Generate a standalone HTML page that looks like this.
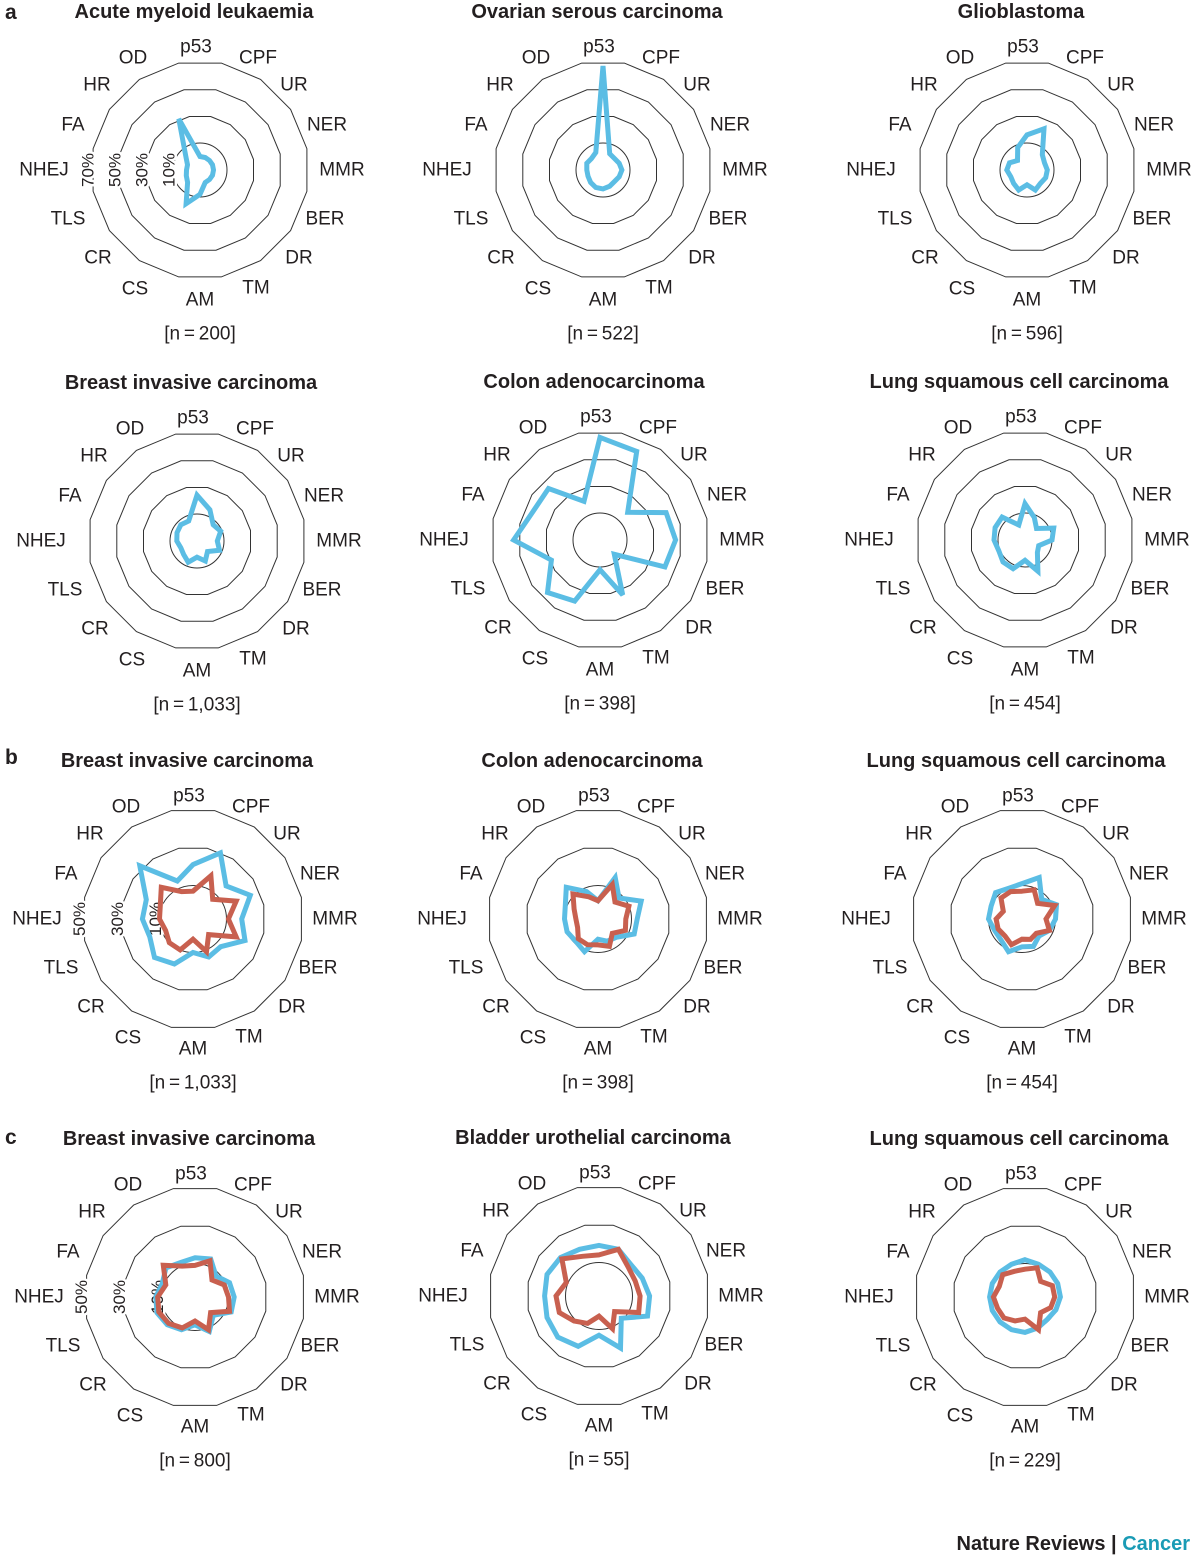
<!DOCTYPE html>
<html><head><meta charset="utf-8">
<style>
html,body{margin:0;padding:0;background:#fff;}
svg{display:block;font-family:"Liberation Sans",sans-serif;}
.ttl{font-weight:bold;font-size:20px;fill:#231f20;}
.lbl{font-size:19px;fill:#231f20;}
.pct{font-size:17px;fill:#231f20;stroke:#fff;stroke-width:5px;paint-order:stroke;}
.panel{font-weight:bold;font-size:21px;fill:#231f20;}
</style></head>
<body>
<svg id="fig" width="1200" height="1559" viewBox="0 0 1200 1559" xmlns="http://www.w3.org/2000/svg">
<text class="panel" x="5" y="19">a</text>
<text class="panel" x="5" y="764">b</text>
<text class="panel" x="5" y="1144">c</text>
<text x="1190" y="1550" text-anchor="end" style="font-size:20px;font-weight:bold"><tspan fill="#231f20">Nature Reviews</tspan><tspan fill="#231f20"> | </tspan><tspan fill="#1a9bb5">Cancer</tspan></text>
</svg>
<script>
const cats=["p53","CPF","UR","NER","MMR","BER","DR","TM","AM","CS","CR","TLS","NHEJ","FA","HR","OD"];
const ringsA=[10,30,50,70];
const ringsBC=[10,30,50];
const amlBlue=[0,0,0,0,0,0,0,0,8,17,3,1,0,0,5,31];
const ovarianBlue=[67,3,2,3,4,3,2,3,4,4,3,2,2,3,2,4];
const glioBlue=[16,23,6,4,5,5,4,6,1,6,4,3,5,4,0,8];
const breastABlue=[24,15,7,9,5,8,1,6,2,7,4,3,5,6,7,6];
const colonABlue=[66,61,19,43,46,42,5,34,12,39,45,29,54,44,44,21];
const lungABlue=[17,8,2,13,10,1,3,15,5,13,13,11,13,14,14,2];
const breastBBlue=[21,30,17,25,18,22,13,14,10,18,21,17,19,19,32,14];
const breastBRed=[7,17,7,17,11,17,4,11,3,10,10,8,10,11,16,8];
const colonBBlue=[2,16,8,17,13,13,6,5,3,11,9,10,10,11,16,8];
const colonBRed=[2,12,5,10,7,8,3,8,6,7,7,4,4,6,11,5];
const lungBBlue=[11,16,7,12,10,8,5,8,7,11,8,8,10,10,12,10];
const lungBRed=[7,9,4,11,5,8,3,4,3,7,5,6,6,3,8,8];
const breastCBlue=[13,14,8,12,13,13,6,12,7,11,13,14,13,11,14,12];
const breastCRed=[9,13,5,9,10,12,4,11,5,10,12,13,12,9,16,10];
const bladderCBlue=[19,19,16,17,19,20,9,22,13,21,23,22,21,22,21,19];
const bladderCRed=[14,19,14,13,14,15,4,11,3,8,11,15,15,11,20,15];
const lungCBlue=[12,11,11,11,11,10,9,10,11,11,11,11,11,11,11,11];
const lungCRed=[7,9,4,8,8,7,4,11,4,6,8,8,9,7,9,7];

const BLUE="#5bbde4", RED="#c8604f";
const LOFF=[[-4,-123],[58,-112],[94,-85],[127,-45],[142,0],[125,49],[99,88],[56,118],[0,130],[-65,119],[-102,88],[-132,49],[-156,0],[-127,-45],[-103,-85],[-67,-112]];

const charts=[
 {id:"aml",title:"Acute myeloid leukaemia",n:"[n\u2009=\u2009200]",cx:200,cy:170,rings:ringsA,r0:13.5,k:1.35,pct:true,series:[[amlBlue,BLUE]]},
 {id:"ovarian",title:"Ovarian serous carcinoma",n:"[n\u2009=\u2009522]",cx:603,cy:170,rings:ringsA,r0:13.5,k:1.35,series:[[ovarianBlue,BLUE]]},
 {id:"glioblastoma",title:"Glioblastoma",n:"[n\u2009=\u2009596]",cx:1027,cy:170,rings:ringsA,r0:13.5,k:1.35,series:[[glioBlue,BLUE]]},
 {id:"breast-a",title:"Breast invasive carcinoma",n:"[n\u2009=\u20091,033]",cx:197,cy:541,rings:ringsA,r0:13.5,k:1.35,series:[[breastABlue,BLUE]]},
 {id:"colon-a",title:"Colon adenocarcinoma",n:"[n\u2009=\u2009398]",cx:600,cy:540,rings:ringsA,r0:13.5,k:1.35,series:[[colonABlue,BLUE]]},
 {id:"lung-a",title:"Lung squamous cell carcinoma",n:"[n\u2009=\u2009454]",cx:1025,cy:540,rings:ringsA,r0:13.5,k:1.35,series:[[lungABlue,BLUE]]},
 {id:"breast-b",title:"Breast invasive carcinoma",n:"[n\u2009=\u20091,033]",cx:193,cy:919,rings:ringsBC,r0:14.5,k:1.9,pct:true,series:[[breastBBlue,BLUE],[breastBRed,RED]]},
 {id:"colon-b",title:"Colon adenocarcinoma",n:"[n\u2009=\u2009398]",cx:598,cy:919,rings:ringsBC,r0:14.5,k:1.9,series:[[colonBBlue,BLUE],[colonBRed,RED]]},
 {id:"lung-b",title:"Lung squamous cell carcinoma",n:"[n\u2009=\u2009454]",cx:1022,cy:919,rings:ringsBC,r0:14.5,k:1.9,series:[[lungBBlue,BLUE],[lungBRed,RED]]},
 {id:"breast-c",title:"Breast invasive carcinoma",n:"[n\u2009=\u2009800]",cx:195,cy:1297,rings:ringsBC,r0:14.5,k:1.9,pct:true,series:[[breastCBlue,BLUE],[breastCRed,RED]]},
 {id:"bladder-c",title:"Bladder urothelial carcinoma",n:"[n\u2009=\u200955]",cx:599,cy:1296,rings:ringsBC,r0:14.5,k:1.9,series:[[bladderCBlue,BLUE],[bladderCRed,RED]]},
 {id:"lung-c",title:"Lung squamous cell carcinoma",n:"[n\u2009=\u2009229]",cx:1025,cy:1297,rings:ringsBC,r0:14.5,k:1.9,series:[[lungCBlue,BLUE],[lungCRed,RED]]}
];
const NS="http://www.w3.org/2000/svg";
const svg=document.getElementById("fig");
function mk(tag,attrs,parent){const e=document.createElementNS(NS,tag);for(const a in attrs)e.setAttribute(a,attrs[a]);parent.appendChild(e);return e;}
charts.forEach(c=>{
  const g=mk("g",{},svg);
  
  
  const rad=v=>c.r0+c.k*v;
  const pt=(i,r)=>{const a=i*2*Math.PI/cats.length;return [c.cx+r*Math.sin(a),c.cy-r*Math.cos(a)];};
  c.rings.forEach((v,j)=>{
    const r=rad(v);let e;
    if(j===0){e=mk("circle",{cx:c.cx,cy:c.cy,r:r,fill:"none",stroke:"#333","stroke-width":1},g);}
    else{const ps=[];for(let i=0;i<16;i++){const a=(i+0.5)*Math.PI/8;const rr=r/Math.cos(Math.PI/16)*0.99;ps.push((c.cx+rr*Math.sin(a)).toFixed(1)+","+(c.cy-rr*Math.cos(a)).toFixed(1));}
      e=mk("polygon",{points:ps.join(" "),fill:"none",stroke:"#333","stroke-width":1},g);}
    
    
  });
  if(c.pct){c.rings.forEach(v=>{
    const x=c.cx-rad(v)-4;
    const t=mk("text",{class:"pct",x:x,y:c.cy,"text-anchor":"middle","dominant-baseline":"central",transform:"rotate(-90 "+x+" "+c.cy+")"},g);
    t.textContent=v+"%";
    
    
  });}
  c.series.forEach((s,si)=>{
    const ps=s[0].map((v,i)=>pt(i,rad(v)).map(n=>n.toFixed(1)).join(","));
    const p=mk("polygon",{points:ps.join(" "),fill:"none",stroke:s[1],"stroke-width":5,"stroke-linejoin":"miter","stroke-miterlimit":3},g);
    
    
  });
  cats.forEach((cat,i)=>{
    const t=mk("text",{class:"lbl",x:c.cx+LOFF[i][0],y:c.cy+LOFF[i][1],"text-anchor":"middle","dominant-baseline":"central"},g);
    t.textContent=cat;
    
    
  });
  const tt=mk("text",{class:"ttl",x:c.cx-6,y:c.cy-158,"text-anchor":"middle","dominant-baseline":"central"},g);
  tt.textContent=c.title;
  
  
  const nt=mk("text",{class:"lbl",x:c.cx,y:c.cy+164,"text-anchor":"middle","dominant-baseline":"central"},g);
  nt.textContent=c.n;
  
  
});
</script>
</body></html>
